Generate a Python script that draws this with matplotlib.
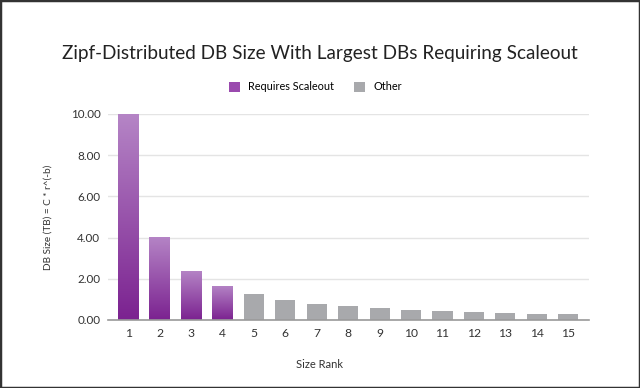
import matplotlib
matplotlib.use("Agg")
import matplotlib.pyplot as plt
import numpy as np
from matplotlib.patches import Patch, Rectangle
from matplotlib.colors import LinearSegmentedColormap

ranks = list(range(1, 16))
sizes = [10.00, 4.04, 2.38, 1.67, 1.26, 0.96, 0.77, 0.66, 0.57, 0.50, 0.45, 0.39, 0.35, 0.31, 0.28]
scaleout = [True, True, True, True] + [False] * 11
title = "Zipf-Distributed DB Size With Largest DBs Requiring Scaleout"
ylabel = "DB Size (TB) = C * r^(-b)"
xlabel = "Size Rank"
yticks = [0, 2, 4, 6, 8, 10]

plt.rcParams['font.family'] = ['Lato', 'DejaVu Sans']

purple_top = "#b585c6"
purple_bot = "#7b2290"
gray = "#a8a9ac"
cmap = LinearSegmentedColormap.from_list("pg", [purple_bot, purple_top])

fig = plt.figure(figsize=(6.4, 3.88), dpi=100)
ax = fig.add_axes([108/640, 1-320/388, (589-108)/640, (320-114)/388])

colors = [purple_top if s else gray for s in scaleout]
bars = ax.bar(ranks, sizes, width=0.64, color=colors, zorder=2)
grad = np.linspace(0, 1, 256).reshape(-1, 1)
for b, s in zip(bars, scaleout):
    if s:
        x0, y0 = b.get_x(), b.get_y()
        w, h = b.get_width(), b.get_height()
        im = ax.imshow(grad, extent=[x0, x0 + w, y0, y0 + h], origin='lower',
                       cmap=cmap, aspect='auto', zorder=3)
        im.set_clip_path(b)

ax.set_xlim(0.36, 15.66)
ax.set_ylim(0, 10)
ax.set_yticks(yticks)
ax.set_yticklabels([f"{v:.2f}" for v in yticks], fontsize=8.4, color="#333333")
ax.set_xticks(ranks)
ax.set_xticklabels([str(r) for r in ranks], fontsize=8.7, color="#333333")
ax.tick_params(axis='y', length=0, pad=5.5)
ax.tick_params(axis='x', length=0, pad=6)
ax.grid(axis='y', color="#e4e4e4", linewidth=1, zorder=0)
ax.set_axisbelow(True)
for sp in ['top', 'right', 'left']:
    ax.spines[sp].set_visible(False)
ax.spines['bottom'].set_color("#9a9a9a")
ax.spines['bottom'].set_linewidth(1.2)
ax.spines['bottom'].set_zorder(4)

ax.set_ylabel(ylabel, fontsize=7.2, color="#333333", labelpad=13)
fig.text(320/640, 1-364/388, xlabel, ha='center', va='center', fontsize=8, color="#333333")

fig.text(0.5, 1-54/388, title, ha='center', va='center', fontsize=13.6, color="#222222")

handles = [Patch(facecolor="#9a4aae", label="Requires Scaleout"),
           Patch(facecolor=gray, label="Other")]
fig.legend(handles=handles, loc='center', bbox_to_anchor=(0.493, 1-87/388), ncol=2,
           frameon=False, fontsize=7.8, handlelength=1.0, handleheight=1.0,
           columnspacing=1.8, handletextpad=0.8)

fig.add_artist(Rectangle((0, 0), 1, 1, transform=fig.transFigure, fill=False,
                         edgecolor="#333333", linewidth=2.5))

fig.savefig("out.png", dpi=100)
